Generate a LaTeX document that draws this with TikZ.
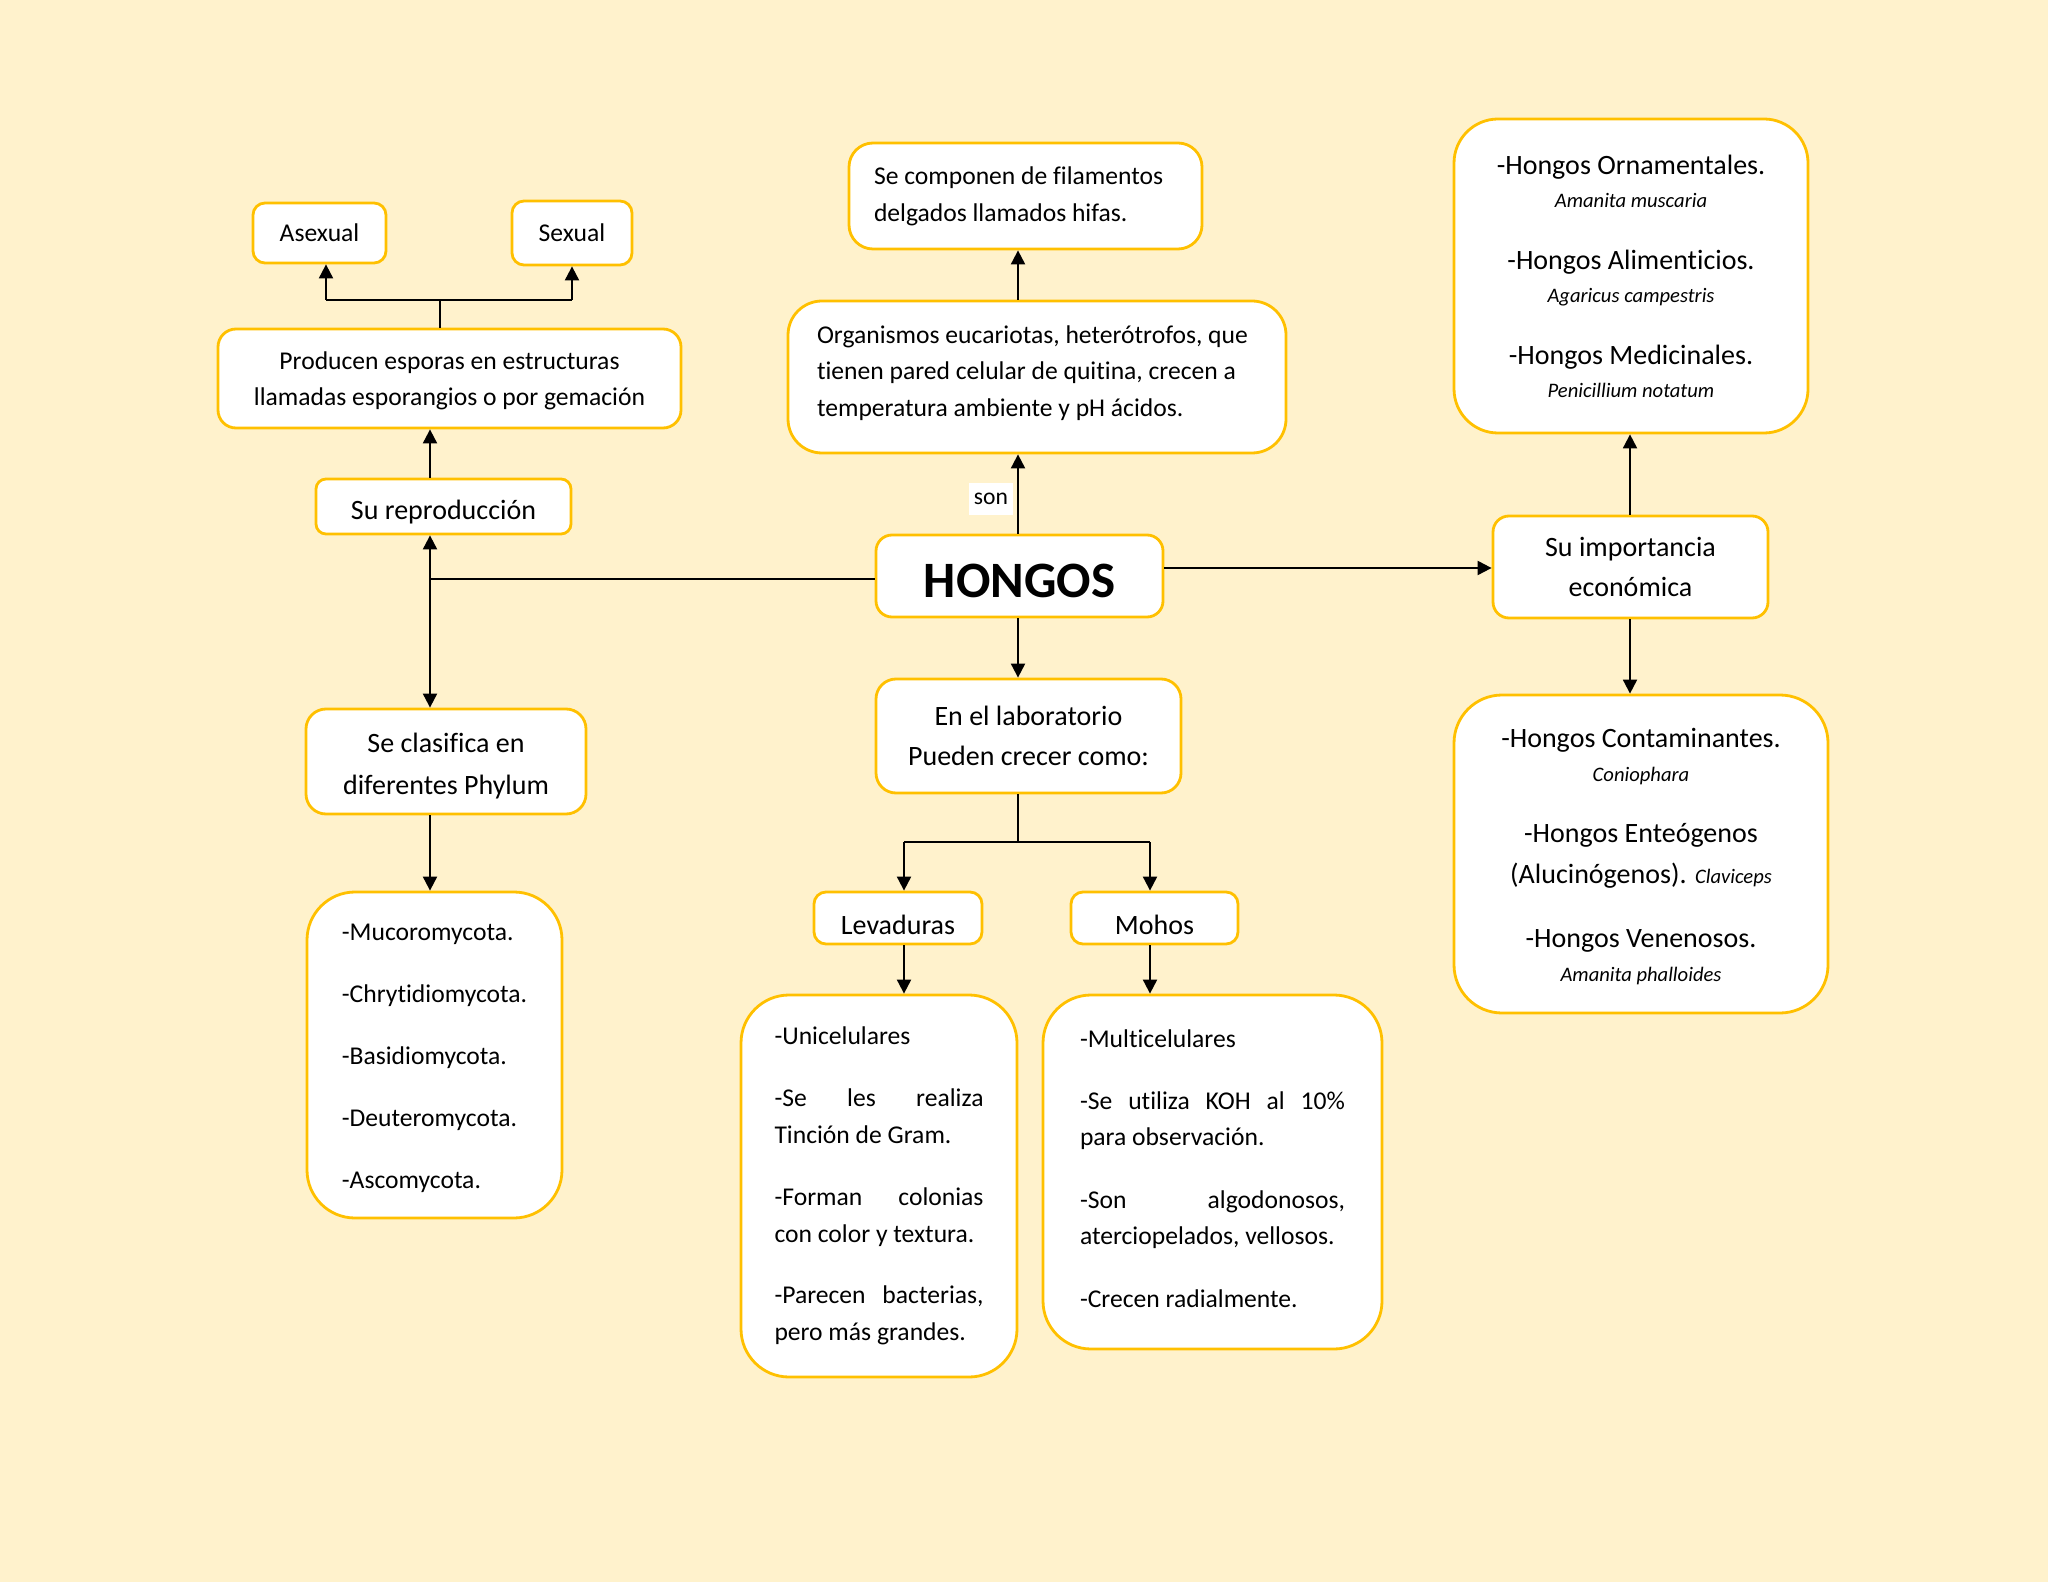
\documentclass[tikz,border=0pt]{standalone}
\usepackage{fontspec}
\setmainfont{Carlito}[Ligatures=NoCommon]
\usetikzlibrary{arrows.meta}
\definecolor{bgc}{HTML}{FFF2CC}
\definecolor{gold}{HTML}{FFC000}
\newcommand{\smit}[1]{{\fontsize{10.3}{12}\selectfont\itshape #1}}
\begin{document}
\begin{tikzpicture}[x=0.5pt,y=-0.5pt,
  box/.style={draw=gold, fill=white, line width=1.4pt, inner sep=0pt, align=center},
  arr/.style={line width=1pt, -{Triangle[length=7pt,width=7pt]}},
  ln/.style={line width=1pt},
  fn/.style={font=\fontsize{12.8}{18.2}\selectfont},
  fl/.style={font=\fontsize{14}{20}\selectfont},
]
\fill[bgc] (0,0) rectangle (2048,1582);
\useasboundingbox (0,0) rectangle (2048,1582);

% nodes
\node[box, fn, minimum width=66.5pt, minimum height=30pt, rounded corners=6pt] (asex) at (319.5,233) {Asexual};
\node[box, fn, minimum width=60pt, minimum height=32pt, rounded corners=6pt] (sex) at (572,233) {Sexual};
\node[box, font=\fontsize{12.8}{18}\selectfont, text depth=0.3pt, minimum width=231.5pt, minimum height=49.5pt, rounded corners=9pt] (prod) at (449.5,378.5) {Producen esporas en estructuras\\llamadas esporangios o por gemación};
\node[box, font=\fontsize{12.8}{18.5}\selectfont, align=flush left, text width=151.5pt, minimum width=176.5pt, minimum height=53pt, rounded corners=12pt] (comp) at (1025.5,196) {Se componen de filamentos\\delgados llamados hifas.};
\node[box, font=\fontsize{12.8}{18.2}\selectfont, align=flush left, text width=220pt, text depth=42.4pt, minimum width=249pt, minimum height=76pt, rounded corners=17pt] (org) at (1037,377) {Organismos eucariotas, heterótrofos, que\\tienen pared celular de quitina, crecen a\\temperatura ambiente y pH ácidos.};
\node[box, font=\fontsize{25.5}{30}\selectfont\bfseries, text height=21.6pt, text depth=0pt, minimum width=143.5pt, minimum height=41pt, rounded corners=8pt] (hongos) at (1019.5,576) {HONGOS};
\node[box, fl, text height=14.1pt, text depth=1pt, minimum width=127.5pt, minimum height=27.5pt, rounded corners=5pt] (repro) at (443.5,506.5) {Su reproducción};
\node[box, font=\fontsize{14}{21}\selectfont, text height=35.5pt, minimum width=140pt, minimum height=52.5pt, rounded corners=10pt] (clas) at (446,761.5) {Se clasifica en\\diferentes Phylum};
\node[box, font=\fontsize{12.8}{31}\selectfont, align=left, text height=135.5pt, minimum width=127.5pt, minimum height=163pt, rounded corners=24pt] (phyl) at (434.5,1055) {-Mucoromycota.\\-Chrytidiomycota.\\-Basidiomycota.\\-Deuteromycota.\\-Ascomycota.};
\node[box, fl, minimum width=152.5pt, minimum height=57pt, rounded corners=10pt] (lab) at (1028.5,736) {En el laboratorio\\Pueden crecer como:};
\node[box, fl, text height=16.2pt, text depth=0pt, minimum width=84pt, minimum height=26pt, rounded corners=6pt] (lev) at (898,918) {Levaduras};
\node[box, fl, text height=16.2pt, text depth=0pt, minimum width=83.5pt, minimum height=26pt, rounded corners=6pt] (moh) at (1154.5,918) {Mohos};
\node[box, font=\fontsize{12.8}{18.5}\selectfont, align=left, minimum width=138pt, minimum height=191pt, rounded corners=24pt] (levc) at (879,1186) {-Unicelulares\\[12.5pt]\makebox[104.5pt][s]{-Se les realiza}\\Tinción de Gram.\\[12.5pt]\makebox[104.5pt][s]{-Forman colonias}\\con color y textura.\\[12pt]\makebox[104.5pt][s]{-Parecen bacterias,}\\pero más grandes.};
\node[box, font=\fontsize{12.8}{18}\selectfont, align=left, text depth=3pt, minimum width=169.5pt, minimum height=177pt, rounded corners=24pt] (mohc) at (1212.5,1172) {-Multicelulares\\[13pt]\makebox[132.5pt][s]{-Se utiliza KOH al 10\%}\\para observación.\\[13.5pt]\makebox[132.5pt][s]{-Son algodonosos,}\\aterciopelados, vellosos.\\[13.5pt]-Crecen radialmente.};
\node[box, fl, minimum width=137.5pt, minimum height=51pt, rounded corners=8pt] (imp) at (1630.5,567) {Su importancia\\económica};
\node[box, font=\fontsize{14}{16.5}\selectfont, minimum width=177pt, minimum height=157pt, rounded corners=22pt] (tr) at (1631,276) {-Hongos Ornamentales.\\\smit{Amanita muscaria}\\[14.5pt]-Hongos Alimenticios.\\\smit{Agaricus campestris}\\[14.5pt]-Hongos Medicinales.\\\smit{Penicillium notatum}};
\node[box, font=\fontsize{14}{17}\selectfont, minimum width=187pt, minimum height=159pt, rounded corners=24pt] (br) at (1641,854) {\\[-5pt]-Hongos Contaminantes.\\\smit{Coniophara}\\[13.5pt]-Hongos Enteógenos\\[3.5pt](Alucinógenos). \smit{Claviceps}\\[15pt]-Hongos Venenosos.\\\smit{Amanita phalloides}};

% connectors
\coordinate (pbr) at (440,300);
\coordinate (pl) at (326,300);
\coordinate (pr) at (572,300);
\draw[ln] (prod.north -| pbr) -- (pbr);
\draw[ln] (pl) -- (pr);
\draw[arr] (pl) -- (pl |- asex.south);
\draw[arr] (pr) -- (pr |- sex.south);

\coordinate (lj) at (430,579);
\draw[ln] (lj -| hongos.west) -- (lj);
\draw[arr] (lj) -- (lj |- repro.south);
\draw[arr] (lj) -- (lj |- clas.north);
\draw[arr] (repro.north -| lj) -- (prod.south -| lj);
\draw[arr] (clas.south -| lj) -- (phyl.north -| lj);

\coordinate (cx) at (1018,0);
\draw[arr] (hongos.north -| cx) -- (org.south -| cx);
\draw[arr] (org.north -| cx) -- (comp.south -| cx);
\draw[arr] (hongos.south -| cx) -- (lab.north -| cx);

\coordinate (lb) at (1018,842);
\coordinate (lbl) at (904,842);
\coordinate (lbr) at (1150,842);
\draw[ln] (lab.south -| lb) -- (lb);
\draw[ln] (lbl) -- (lbr);
\draw[arr] (lbl) -- (lbl |- lev.north);
\draw[arr] (lbr) -- (lbr |- moh.north);
\draw[arr] (lev.south -| lbl) -- (levc.north -| lbl);
\draw[arr] (moh.south -| lbr) -- (mohc.north -| lbr);

\coordinate (rj) at (0,568);
\draw[arr] (rj -| hongos.east) -- (rj -| imp.west);
\coordinate (ix) at (1630,0);
\draw[arr] (imp.north -| ix) -- (tr.south -| ix);
\draw[arr] (imp.south -| ix) -- (br.north -| ix);

\node[fill=white, inner sep=0pt, minimum width=22pt, minimum height=16pt, font=\fontsize{11.8}{14}\selectfont] (son) at (991,499) {son};
\end{tikzpicture}
\end{document}
